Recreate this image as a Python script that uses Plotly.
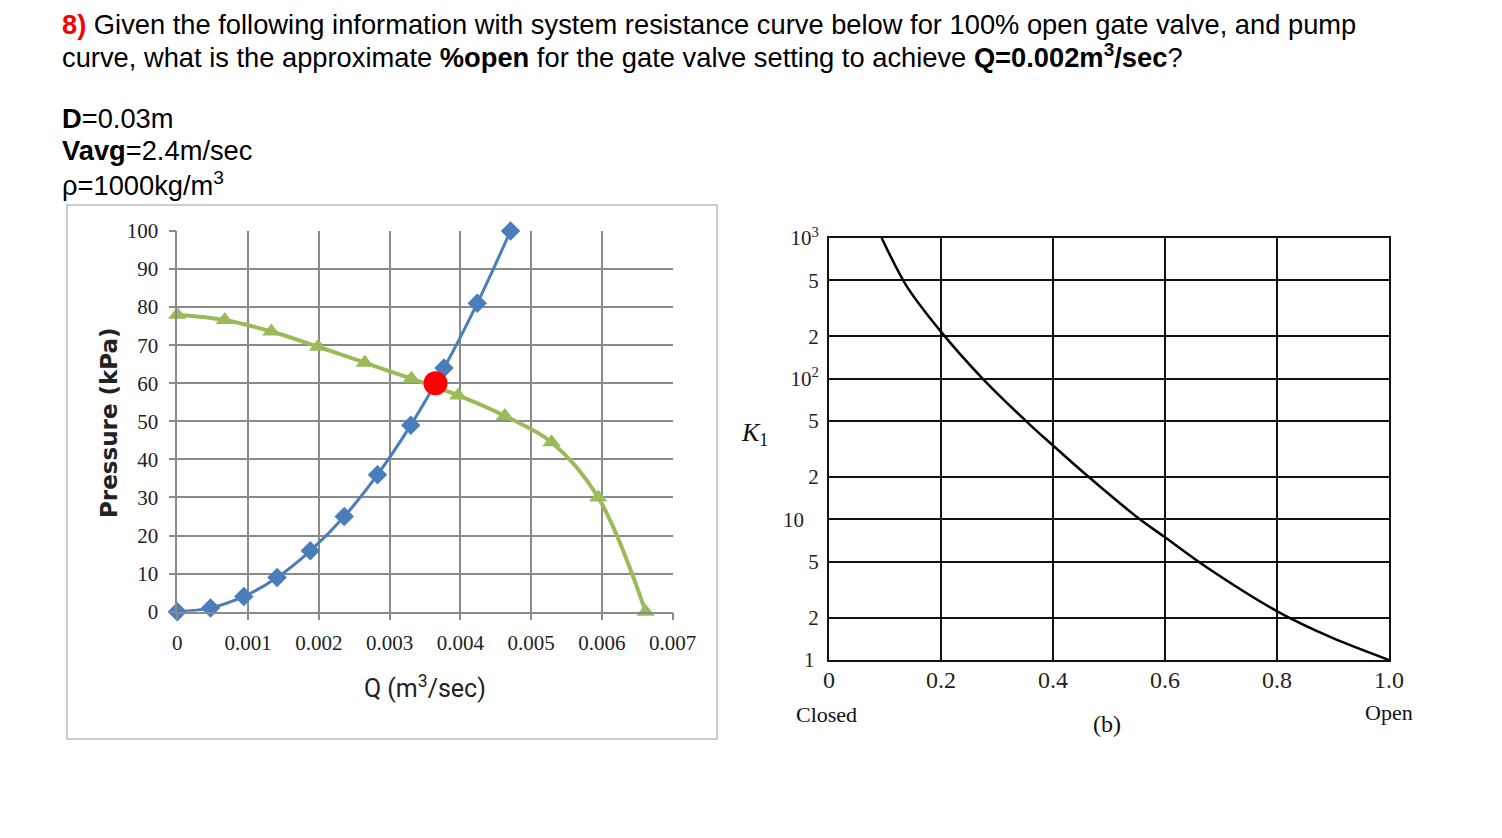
import plotly.graph_objects as go

W, H = 1502, 838

# ---------------- data ----------------
sys_q = [0, 0.00047, 0.00094, 0.00141, 0.00188, 0.00236, 0.00283, 0.0033, 0.00377, 0.00424, 0.00471]
sys_p = [0, 1, 4, 9, 16, 25, 36, 49, 64, 81, 100]

pump_q = [0, 0.00067, 0.00133, 0.00199, 0.00265, 0.00331, 0.00397, 0.00463, 0.00529, 0.00595, 0.00662]
pump_p = [78, 76.6, 73.6, 69.6, 65.4, 61.2, 56.8, 51.4, 44.5, 30, 0]

op_q = [0.00365]
op_p = [60]

valve_open = [0.094, 0.1375, 0.1995, 0.2755, 0.360, 0.396, 0.454, 0.555, 0.597, 0.673, 0.802, 0.900, 1.0]
valve_k = [1000, 463, 217, 99, 46.6, 34.6, 21.6, 10, 7.6, 4.6, 2.2, 1.43, 1.0]

left_xticks = [0, 0.001, 0.002, 0.003, 0.004, 0.005, 0.006, 0.007]
left_xticklabels = ["0", "0.001", "0.002", "0.003", "0.004", "0.005", "0.006", "0.007"]
left_yticks = [0, 10, 20, 30, 40, 50, 60, 70, 80, 90, 100]

right_yticks = [1, 2, 5, 10, 20, 50, 100, 200, 500, 1000]
right_yticklabels = ["1\u2009", "2", "5", "10\u2002\u2009", "2", "5", "10<sup>2</sup>", "2", "5", "10<sup>3</sup>"]
right_xticks = [0, 0.2, 0.4, 0.6, 0.8, 1.0]
right_xticklabels = ["0", "0.2", "0.4", "0.6", "0.8", "1.0"]

header_line1 = "<b><span style='color:#ff0000'>8)</span></b> Given the following information with system resistance curve below for 100% open gate valve, and pump"
header_line2 = "curve, what is the approximate <b>%open</b> for the gate valve setting to achieve <b>Q=0.002m<sup>3</sup>/sec</b>?"
given_lines = ["<b>D</b>=0.03m", "<b>Vavg</b>=2.4m/sec", "ρ=1000kg/m<sup>3</sup>"]


def px(x):
    return x / W


def py(y):
    return 1 - y / H


fig = go.Figure()

# left chart series
fig.add_trace(go.Scatter(
    x=sys_q, y=sys_p, mode="lines+markers", line=dict(color="#4a7ebb", width=3, shape="spline"),
    marker=dict(symbol="diamond", size=15, color="#4a7ebb"), cliponaxis=False,
    xaxis="x", yaxis="y", showlegend=False))
fig.add_trace(go.Scatter(
    x=pump_q, y=pump_p, mode="lines+markers", line=dict(color="#9bbb59", width=4, shape="spline"),
    marker=dict(symbol="triangle-up", size=16, color="#9bbb59"), cliponaxis=False,
    xaxis="x", yaxis="y", showlegend=False))
fig.add_trace(go.Scatter(
    x=op_q, y=op_p, mode="markers", marker=dict(symbol="circle", size=24, color="#ff0000"),
    cliponaxis=False, xaxis="x", yaxis="y", showlegend=False))

# right chart curve
fig.add_trace(go.Scatter(
    x=valve_open, y=valve_k, mode="lines", line=dict(color="#000000", width=2.5, shape="spline", smoothing=0.8),
    cliponaxis=False, xaxis="x2", yaxis="y2", showlegend=False))

serif = "Liberation Serif"
sans = "Liberation Sans"

fig.update_layout(
    width=W, height=H, margin=dict(l=0, r=0, t=0, b=0, autoexpand=False),
    paper_bgcolor="white", plot_bgcolor="white",
    xaxis=dict(domain=[px(177.3), px(672.5)], range=[0, 0.007], tickvals=left_xticks, ticktext=left_xticklabels,
               showgrid=True, gridcolor="#8a8a8a", gridwidth=1.5, zeroline=False,
               showline=True, linecolor="#8a8a8a", linewidth=1.5,
               ticks="outside", ticklen=7, tickcolor="#8a8a8a", tickwidth=1.5,
               tickfont=dict(family=serif, size=21, color="#222"), ticklabelstandoff=4,
               anchor="y", fixedrange=True, automargin=False,
               title=dict(text="Q (m<sup>3</sup>/sec)", font=dict(family="Roboto", size=25, color="#222"), standoff=26)),
    yaxis=dict(domain=[py(611.7), py(231)], range=[0, 100], tickvals=left_yticks,
               showgrid=True, gridcolor="#8a8a8a", gridwidth=1.5, zeroline=False,
               showline=True, linecolor="#8a8a8a", linewidth=1.5,
               ticks="outside", ticklen=7, tickcolor="#8a8a8a", tickwidth=1.5,
               tickfont=dict(family=serif, size=21, color="#222"), ticklabelstandoff=6,
               anchor="x", fixedrange=True, automargin=False),
    xaxis2=dict(domain=[px(829), px(1389)], range=[0, 1.0], tickvals=right_xticks, ticktext=right_xticklabels,
                showgrid=True, gridcolor="#111", gridwidth=2, zeroline=False,
                showline=True, linecolor="#111", linewidth=2, mirror=True,
                ticks="", tickfont=dict(family=serif, size=24, color="#222"), ticklabelstandoff=-3,
                anchor="y2", fixedrange=True, automargin=False),
    yaxis2=dict(domain=[py(660), py(238)], type="log", range=[0, 3], tickvals=right_yticks, ticktext=right_yticklabels,
                showgrid=True, gridcolor="#111", gridwidth=2, zeroline=False,
                showline=True, linecolor="#111", linewidth=2, mirror=True,
                ticks="", tickfont=dict(family=serif, size=21, color="#222"), ticklabelstandoff=4,
                anchor="x2", fixedrange=True, automargin=False),
)

# left chart outer frame
fig.add_shape(type="rect", xref="paper", yref="paper", x0=px(67), x1=px(717), y0=py(739), y1=py(205),
              line=dict(color="#bfbfbf", width=1.5), fillcolor="rgba(0,0,0,0)", layer="below")

ann = []
ann.append(dict(text="<b>Pressure (kPa)</b>", x=px(109), y=py(423), textangle=-90,
                font=dict(family="DejaVu Sans", size=23, color="#222")))
ann.append(dict(text="<i>K</i><sub>1</sub>", x=px(754), y=py(434), font=dict(family=serif, size=26, color="#111")))
ann.append(dict(text="Closed", x=px(826), y=py(714), font=dict(family=serif, size=22, color="#111")))
ann.append(dict(text="Open", x=px(1389), y=py(712), font=dict(family=serif, size=22, color="#111")))
ann.append(dict(text="(b)", x=px(1107), y=py(724), font=dict(family=serif, size=24, color="#111")))

ann.append(dict(text=header_line1, x=px(60), y=py(24), xanchor="left", font=dict(family=sans, size=27.3, color="#000")))
ann.append(dict(text=header_line2, x=px(60), y=py(56), xanchor="left", font=dict(family=sans, size=27.3, color="#000")))
for i, (t, yy) in enumerate(zip(given_lines, [118, 150, 184])):
    ann.append(dict(text=t, x=px(60), y=py(yy), xanchor="left", font=dict(family=sans, size=27.3, color="#000")))

for a in ann:
    a.setdefault("xanchor", "center")
    a.setdefault("yanchor", "middle")
    a.update(xref="paper", yref="paper", showarrow=False)
fig.update_layout(annotations=ann)

fig.write_html("out.html")
